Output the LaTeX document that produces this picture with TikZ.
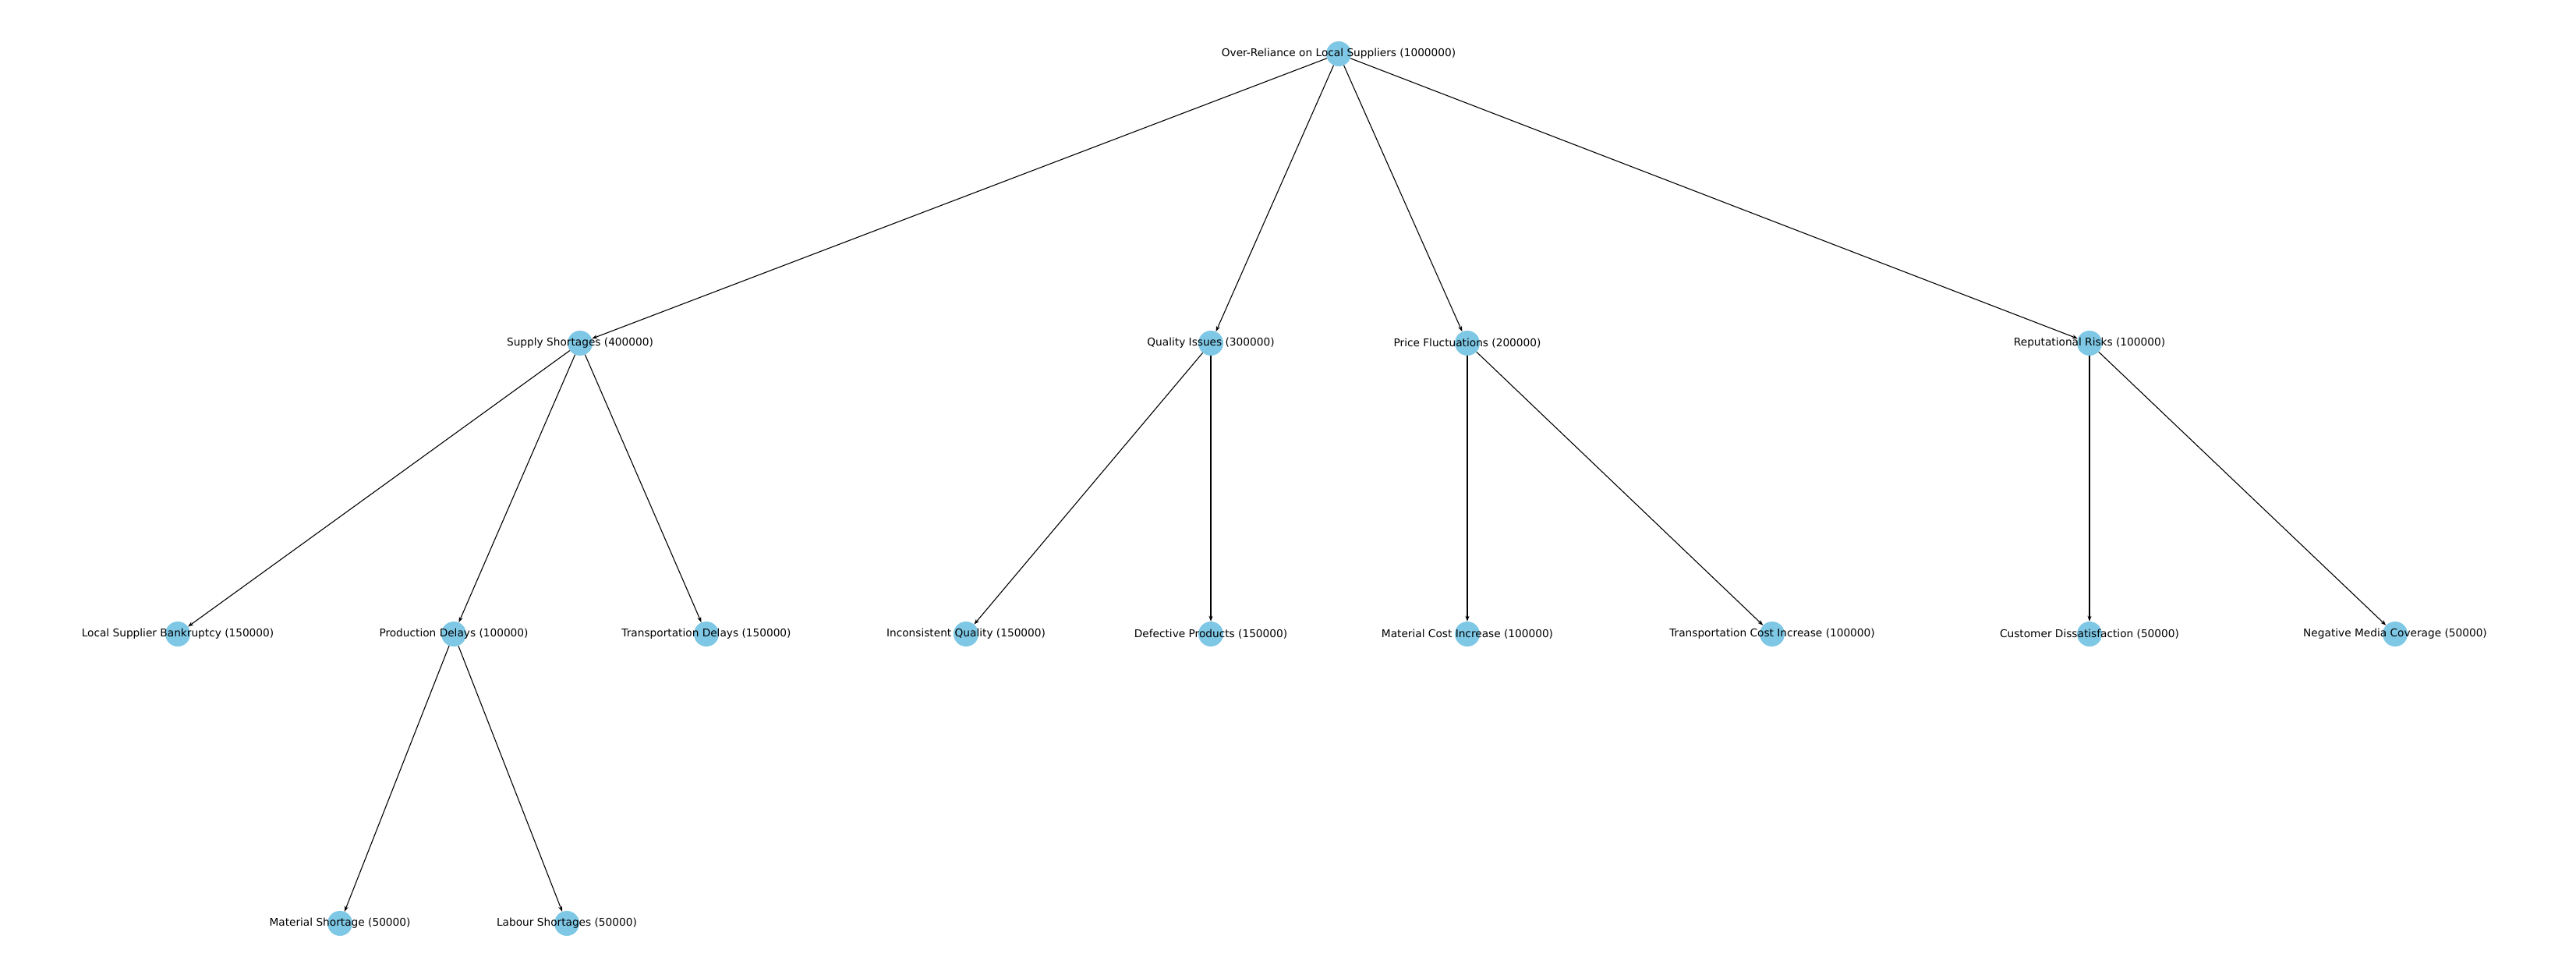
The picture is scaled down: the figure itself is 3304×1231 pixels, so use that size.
\documentclass[tikz,border=0pt]{standalone}
\usepackage{fontspec}
\setmainfont{DejaVu Sans}
\usetikzlibrary{arrows.meta}
\begin{document}
\begin{tikzpicture}[x=1pt,y=-1pt,
  nd/.style={circle,fill=cyan!45!blue!30!white,fill=nodeblue,minimum size=32pt,inner sep=0pt},
  lab/.style={font=\fontsize{13.7}{15}\selectfont,text=black},
  edge/.style={draw=black,line width=1.1pt,-{Stealth[length=7pt,width=5pt]},shorten >=0pt}]
\definecolor{nodeblue}{HTML}{7EC8E6}
\fill[white] (0,0) rectangle (3304,1231);
\useasboundingbox (0,0) rectangle (3304,1231);
\foreach \n/\x/\y/\t in {
 r/1717/69/Over-Reliance on Local Suppliers (1000000),
 s/744/440/Supply Shortages (400000),
 q/1553/440/Quality Issues (300000),
 p/1882/440/Price Fluctuations (200000),
 rr/2680/440/Reputational Risks (100000),
 lb/228/813/Local Supplier Bankruptcy (150000),
 pd/582/813/Production Delays (100000),
 td/906/813/Transportation Delays (150000),
 iq/1239/813/Inconsistent Quality (150000),
 dp/1553/813/Defective Products (150000),
 mc/1882/813/Material Cost Increase (100000),
 tc/2273/813/Transportation Cost Increase (100000),
 cd/2680/813/Customer Dissatisfaction (50000),
 nm/3072/813/Negative Media Coverage (50000),
 ms/436/1184/Material Shortage (50000),
 ls/727/1184/Labour Shortages (50000)}
 {\node[nd] (\n) at (\x,\y) {};}
\foreach \a/\b in {r/s,r/q,r/p,r/rr,s/lb,s/pd,s/td,q/iq,q/dp,p/mc,p/tc,rr/cd,rr/nm,pd/ms,pd/ls}
 \draw[edge] (\a) -- (\b);
\foreach \n/\t in {
 r/Over-Reliance on Local Suppliers (1000000),
 s/Supply Shortages (400000),
 q/Quality Issues (300000),
 p/Price Fluctuations (200000),
 rr/Reputational Risks (100000),
 lb/Local Supplier Bankruptcy (150000),
 pd/Production Delays (100000),
 td/Transportation Delays (150000),
 iq/Inconsistent Quality (150000),
 dp/Defective Products (150000),
 mc/Material Cost Increase (100000),
 tc/Transportation Cost Increase (100000),
 cd/Customer Dissatisfaction (50000),
 nm/Negative Media Coverage (50000),
 ms/Material Shortage (50000),
 ls/Labour Shortages (50000)}
 {\node[lab] (\n-t) at (\n.center) {\t};}
\end{tikzpicture}
\end{document}
